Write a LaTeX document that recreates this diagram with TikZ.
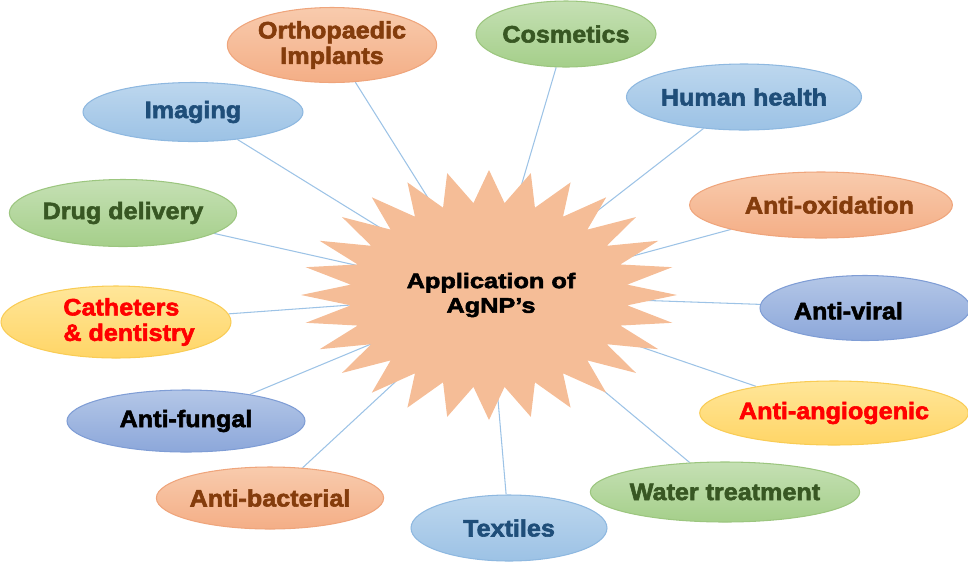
\documentclass[tikz,border=0pt]{standalone}
\usepackage{fontspec}
\setmainfont{Liberation Sans}[FakeStretch=1.06,FakeBold=2.4]
\newfontfamily\widefont{Liberation Sans}[FakeStretch=1.2,FakeBold=2.6]
\usetikzlibrary{shapes.geometric}
\pgfdeclarelayer{bg}
\pgfsetlayers{bg,main}
\definecolor{salT}{HTML}{F8CBAD}\definecolor{salB}{HTML}{F4AE86}\definecolor{salD}{HTML}{EFA57C}\definecolor{salX}{HTML}{843C0C}
\definecolor{grnT}{HTML}{C5E0B4}\definecolor{grnB}{HTML}{A5CF8A}\definecolor{grnD}{HTML}{9CC67F}\definecolor{grnX}{HTML}{385723}
\definecolor{bluT}{HTML}{BDD7EE}\definecolor{bluB}{HTML}{9CC2E5}\definecolor{bluD}{HTML}{8EB8E0}\definecolor{bluX}{HTML}{1F4E79}
\definecolor{yelT}{HTML}{FFE699}\definecolor{yelB}{HTML}{FFD566}\definecolor{yelD}{HTML}{F9CC55}
\definecolor{purT}{HTML}{B4C7E7}\definecolor{purB}{HTML}{8CA7DA}\definecolor{purD}{HTML}{7F9DD5}
\definecolor{starc}{HTML}{F5BD97}
\definecolor{linec}{HTML}{9DC3E6}
\begin{document}
\begin{tikzpicture}[x=0.02cm,y=-0.02cm,
  bub/.style={ellipse, inner sep=0pt, line width=0.6pt, align=center,
    font=\bfseries\fontsize{13.5}{14.5}\selectfont},
  sz/.style 2 args={minimum width=#1*0.02cm, minimum height=#2*0.02cm},
  sal/.style={bub, top color=salT, bottom color=salB, draw=salD, text=salX},
  grn/.style={bub, top color=grnT, bottom color=grnB, draw=grnD, text=grnX},
  blu/.style={bub, top color=bluT, bottom color=bluB, draw=bluD, text=bluX},
  yel/.style={bub, top color=yelT, bottom color=yelB, draw=yelD, text=red},
  pur/.style={bub, top color=purT, bottom color=purB, draw=purD, text=black},
  conn/.style={draw=linec, line width=0.6pt}]
\useasboundingbox (0,0) rectangle (968,562);

\node[sal, sz={180}{75}] (ortho) at (332,45) {Orthopaedic\\Implants};
\node[grn, sz={180}{66}] (cosm) at (566,34) {Cosmetics};
\node[blu, sz={220}{59}] (imag) at (193,112) {Imaging};
\node[blu, sz={217}{66}] (human) at (744,97) {Human health};
\node[grn, sz={220}{67}] (drug) at (123,213) {Drug delivery};
\node[sal, sz={212}{66}] (antiox) at (821,205) {\hspace*{16\pgflinewidth}Anti-oxidation};
\node[yel, sz={230}{72}, align=left] (cath) at (116,322) {\hspace*{1.1em}Catheters\\\hspace*{1.1em}\& dentistry};
\node[pur, sz={210}{65}] (antiv) at (865,308) {\raisebox{-0.9ex}[0pt][0pt]{Anti-viral}\hspace*{1.4em}};
\node[pur, sz={238}{62}] (antif) at (186,421) {Anti-fungal};
\node[yel, sz={228}{64}] (antiang) at (834,413) {Anti-angiogenic};
\node[sal, sz={216}{62}] (antibac) at (270,498) {Anti-bacterial};
\node[blu, sz={196}{66}] (textl) at (509,528) {Textiles};
\node[grn, sz={230}{60}] (water) at (725,492) {Water treatment};

\begin{scope}[shift={(489,295)}]
\fill[starc] (188,0) \foreach \i in {0,...,27}{
  -- ({188*cos(\i*360/28)},{125*sin(\i*360/28)})
  -- ({0.74*188*cos((\i+0.5)*360/28)},{0.74*125*sin((\i+0.5)*360/28)}) } -- cycle;
\end{scope}
\coordinate (star) at (489,295);
\node[font=\widefont\bfseries\fontsize{12}{14}\selectfont, align=center, inner sep=0pt] (title) at (491,295) {Application of\\AgNP’s};

\begin{pgfonlayer}{bg}
\foreach \n in {ortho,cosm,imag,human,drug,antiox,cath,antiv,antif,antiang,antibac,textl,water}
  \draw[conn] (\n) -- (star);
\end{pgfonlayer}
\end{tikzpicture}
\end{document}
